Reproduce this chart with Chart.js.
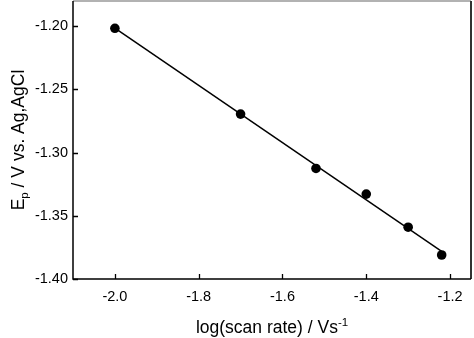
<!DOCTYPE html>
<html>
<head>
<meta charset="utf-8">
<script src="https://cdn.jsdelivr.net/npm/chart.js@4/dist/chart.umd.min.js"></script>
<style>
html,body{margin:0;padding:0;background:#fff;}
#wrap{width:474px;height:338px;position:relative;}
</style>
</head>
<body>
<div id="wrap"><canvas id="c" width="474" height="338"></canvas></div>
<script>
// Data
const logScanRate = [-2.00, -1.70, -1.52, -1.40, -1.30, -1.22];
const peakPotential = [-1.2016, -1.2695, -1.3125, -1.3328, -1.3590, -1.3810];
const fitX = [-2.00, -1.22];
const fitY = [-1.2014, -1.3781];
const xTickValues = [-2.0, -1.8, -1.6, -1.4, -1.2];
const yTickValues = [-1.20, -1.25, -1.30, -1.35, -1.40];
const xTitleMain = 'log(scan rate) / Vs';
const xTitleSup = '-1';
const yTitleMain = 'E';
const yTitleSub = 'p';
const yTitleRest = ' / V vs. Ag,AgCl';

const FONT = '"Liberation Sans", Arial, sans-serif';

const framePlugin = {
  id: 'frame',
  afterDatasetsDraw(chart) {
    const {ctx, chartArea: a, scales: {x, y}} = chart;
    ctx.save();
    // inward ticks
    ctx.strokeStyle = '#000';
    ctx.lineWidth = 1.3;
    ctx.beginPath();
    xTickValues.forEach(v => {
      const px = Math.round(x.getPixelForValue(v)) + 0.5;
      ctx.moveTo(px, a.bottom); ctx.lineTo(px, a.bottom - 5);
    });
    yTickValues.forEach(v => {
      const py = Math.round(y.getPixelForValue(v)) + 0.5;
      ctx.moveTo(a.left, py); ctx.lineTo(a.left + 5, py);
    });
    ctx.stroke();
    // frame
    ctx.strokeStyle = '#999';
    ctx.lineWidth = 1.5;
    ctx.beginPath(); ctx.moveTo(a.left, a.top); ctx.lineTo(a.right, a.top); ctx.stroke();
    ctx.strokeStyle = '#333';
    ctx.lineWidth = 2;
    ctx.beginPath(); ctx.moveTo(a.right, a.top); ctx.lineTo(a.right, a.bottom); ctx.stroke();
    ctx.strokeStyle = '#000';
    ctx.lineWidth = 1.5;
    ctx.beginPath(); ctx.moveTo(a.left, a.top); ctx.lineTo(a.left, a.bottom); ctx.lineTo(a.right, a.bottom); ctx.stroke();
    ctx.restore();
  },
  afterDraw(chart) {
    const {ctx, chartArea: a} = chart;
    ctx.save();
    ctx.fillStyle = '#000';
    ctx.textBaseline = 'alphabetic';
    // x title
    const big = '17.5px ' + FONT, small = '11.5px ' + FONT;
    ctx.font = big;
    const w1 = ctx.measureText(xTitleMain).width;
    ctx.font = small;
    const w2 = ctx.measureText(xTitleSup).width;
    const cx = (a.left + a.right) / 2;
    let sx = cx - (w1 + w2) / 2;
    const by = 333;
    ctx.font = big; ctx.textAlign = 'left';
    ctx.fillText(xTitleMain, sx, by);
    ctx.font = small;
    ctx.fillText(xTitleSup, sx + w1, by - 7);
    // y title rotated
    ctx.translate(24, (a.top + a.bottom) / 2);
    ctx.rotate(-Math.PI / 2);
    ctx.font = big;
    const e1 = ctx.measureText(yTitleMain).width;
    const e3 = ctx.measureText(yTitleRest).width;
    ctx.font = small;
    const e2 = ctx.measureText(yTitleSub).width;
    let tx = -(e1 + e2 + e3) / 2;
    ctx.font = big; ctx.fillText(yTitleMain, tx, 0);
    ctx.font = small; ctx.fillText(yTitleSub, tx + e1, 4);
    ctx.font = big; ctx.fillText(yTitleRest, tx + e1 + e2, 0);
    ctx.restore();
  }
};

new Chart(document.getElementById('c'), {
  type: 'scatter',
  data: {
    datasets: [
      {
        label: 'fit',
        data: fitX.map((v, i) => ({x: v, y: fitY[i]})),
        showLine: true,
        borderColor: '#000',
        borderWidth: 1.5,
        pointRadius: 0,
        fill: false
      },
      {
        label: 'Ep',
        data: logScanRate.map((v, i) => ({x: v, y: peakPotential[i]})),
        showLine: false,
        pointRadius: 4.8,
        pointBackgroundColor: '#000',
        pointBorderColor: '#000',
        pointBorderWidth: 0
      }
    ]
  },
  options: {
    responsive: false,
    animation: false,
    layout: {autoPadding: false, padding: {left: 0, right: 3, top: 1, bottom: 0}},
    plugins: {legend: {display: false}, tooltip: {enabled: false}},
    scales: {
      x: {
        type: 'linear',
        min: -2.1, max: -1.15,
        border: {display: false},
        grid: {display: false, drawTicks: false},
        afterBuildTicks: s => { s.ticks = xTickValues.map(v => ({value: v})); },
        afterFit: s => {
          s.height = 59; s.paddingLeft = 0; s.paddingRight = 0;
        },
        ticks: {
          padding: 9,
          color: '#000',
          font: {family: FONT, size: 14.5},
          callback: v => v.toFixed(1)
        }
      },
      y: {
        type: 'linear',
        min: -1.40, max: -1.18,
        border: {display: false},
        grid: {display: false, drawTicks: false},
        afterBuildTicks: s => { s.ticks = yTickValues.map(v => ({value: v})); },
        afterFit: s => {
          s.width = 73; s.paddingTop = 0; s.paddingBottom = 0;
        },
        ticks: {
          padding: 5,
          color: '#000',
          font: {family: FONT, size: 14.5},
          callback: v => v.toFixed(2)
        }
      }
    }
  },
  plugins: [framePlugin]
});
</script>
</body>
</html>
